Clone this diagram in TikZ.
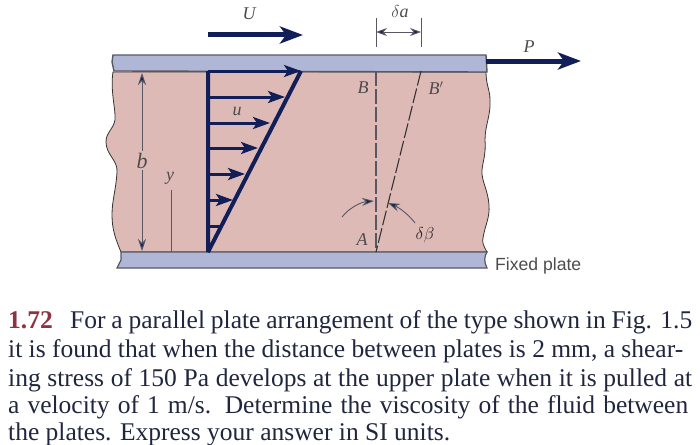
\documentclass[tikz,border=0pt]{standalone}
\usepackage{fontspec}
\setmainfont{Liberation Serif}
\setsansfont{Liberation Sans}
\usetikzlibrary{arrows.meta,positioning}
\definecolor{platecol}{RGB}{176,183,214}
\definecolor{fluidcol}{RGB}{222,186,182}
\definecolor{navycol}{RGB}{18,30,88}
\definecolor{edgecol}{RGB}{88,88,100}
\definecolor{probnum}{RGB}{140,50,65}
\definecolor{inkcol}{RGB}{32,38,62}
\newcommand{\fitline}[2]{\makebox[#1][s]{#2}}
\tikzset{
  thickarrow/.style={navycol,line width=5pt,-{Stealth[length=23pt,width=17pt,inset=6pt]}},
  profarrow/.style={navycol,line width=3pt,-{Stealth[length=17pt,width=12pt,inset=4pt]}},
  dimline/.style={edgecol,line width=.9pt},
  dimarrow/.style={dimline,{Stealth[length=11pt,width=8pt,fill=navycol]}-{Stealth[length=11pt,width=8pt,fill=navycol]}},
  curvearrow/.style={edgecol,line width=.9pt,-{Stealth[length=12pt,width=8pt,fill=navycol]}},
  matlabel/.style={inner sep=0pt,text=black!70,font=\fontsize{18}{20}\selectfont\itshape},
  statement/.style={anchor=base west,inner sep=0pt,text=inkcol,font=\fontsize{25.5}{28}\selectfont}
}
\begin{document}
\begin{tikzpicture}[x=1pt,y=-1pt]
	\useasboundingbox (0,0) rectangle (700,444);
	% fluid
	\filldraw[fill=fluidcol,draw=black!80,line width=.8pt] (113,72) .. controls (110,90) and (116,110) .. (115,120) .. controls (113,130) and (106,132) .. (106,142) .. controls (106,155) and (118,160) .. (117,172) .. controls (116,190) and (112,200) .. (112,215) .. controls (112,230) and (116,240) .. (121,252) -- (487,252) .. controls (483,245) and (482,242) .. (483,238) .. controls (485,225) and (490,218) .. (489,205) .. controls (488,190) and (481,180) .. (482,170) .. controls (483,160) and (486,155) .. (485,140) .. controls (485,125) and (491,115) .. (490,100) .. controls (490,90) and (486,85) .. (486,72) -- cycle;
	% plates
	\filldraw[fill=platecol,draw=edgecol,line width=1.4pt] (113,55) -- (486,55) -- (487,72) -- (114,71) -- (112,62) -- cycle;
	\filldraw[fill=platecol,draw=edgecol,line width=1.2pt] (121,252) -- (487,252) .. controls (484,257) and (484,262) .. (487,268) -- (117,268) -- (121,260) -- cycle;
	% velocity profile
	\coordinate (base) at (208,252);
	\coordinate (top) at (208,71);
	\coordinate (tip) at (301,71);
	\draw[navycol,line width=4pt,line join=bevel] (top) -- (base) -- (tip);
	\foreach \y/\x in {71/301,97/285,123/270,148/258,174/245,200/233} \draw[profarrow] (208,\y) -- (\x,\y);
	\draw[navycol,line width=3pt] (208,226) -- (221,226);
	% moving plate arrows
	\coordinate (uleft) at (208,35);
	\coordinate (uright) at (303,35);
	\coordinate (pleft) at (486,61);
	\coordinate (pright) at (581,61);
	\draw[thickarrow] (uleft) -- (uright);
	\draw[thickarrow] (pleft) -- (pright);
	% gap dimension b, y
	\coordinate (btop) at (142,73);
	\coordinate (bbot) at (142,251);
	\draw[dimline,{Stealth[length=12pt,width=8pt,fill=navycol]}-{Stealth[length=12pt,width=8pt,fill=navycol]}] (btop) -- (bbot);
	\fill[fluidcol] (134,151) rectangle (150,170);
	\node[matlabel,font=\fontsize{22}{24}\selectfont\itshape] (blabel) at (142,161) {b};
	\draw[dimline] (171,190) -- (171,252);
	\node[matlabel] (ylabel) at (170,178) {y};
	\node[matlabel] (ulabel) at (237,111) {u};
	% line AB, AB'
	\coordinate (A) at (376,252);
	\coordinate (B) at (376,71);
	\coordinate (Bp) at (421,71);
	\draw[edgecol,line width=1.1pt,dash pattern=on 15pt off 3pt] (B) -- (A);
	\draw[black!80,line width=1.1pt,dash pattern=on 15pt off 3pt] (Bp) -- (A);
	\node[matlabel] (Blabel) at (363,88) {B};
	\node[matlabel] (Bplabel) at (436,88) {B$'$};
	\node[matlabel] (Alabel) at (362,240) {A};
	% dimension delta a
	\draw[dimline] (376,18) -- (376,47);
	\draw[dimline] (421,18) -- (421,47);
	\coordinate (dl) at (376,32);
	\coordinate (dr) at (421,32);
	\draw[dimarrow] (dl) -- (dr);
	\node[matlabel] (dalabel) at (400,12) {$\delta$a};
	% angle
	\draw[curvearrow] (342,217) .. controls (349,208) and (361,202) .. (374,201);
	\draw[curvearrow] (415,223) .. controls (409,215) and (400,208) .. (388,203);
	\node[matlabel,text=black!85] (dblabel) at (425,235) {$\delta\beta$};
	\node[matlabel] (Plabel) at (529,47) {P};
	\node[matlabel] (Ulabel) at (249,14) {U};
	\node[anchor=base west,inner sep=0pt,text=black!70,font=\sffamily\fontsize{17.6}{20}\selectfont] (fixedlabel) at (495,270) {Fixed plate};
	% problem text
	\node[statement,text=probnum,font=\fontsize{25.5}{28}\selectfont\bfseries] (pnum) at (8,328) {1.72};
	\node[statement] (l1) at (70,328) {\fitline{622pt}{For a parallel plate arrangement of the type shown in Fig. 1.5}};
	\node[statement] (l2) at (8,357) {\fitline{675pt}{it is found that when the distance between plates is 2 mm, a shear-}};
	\node[statement] (l3) at (8,386) {\fitline{684pt}{ing stress of 150 Pa develops at the upper plate when it is pulled at}};
	\node[statement] (l4) at (8,413) {\fitline{680pt}{a velocity of 1 m/s. Determine the viscosity of the fluid between}};
	\node[statement] (l5) at (8,440) {the plates. Express your answer in SI units.};
\end{tikzpicture}
\end{document}
